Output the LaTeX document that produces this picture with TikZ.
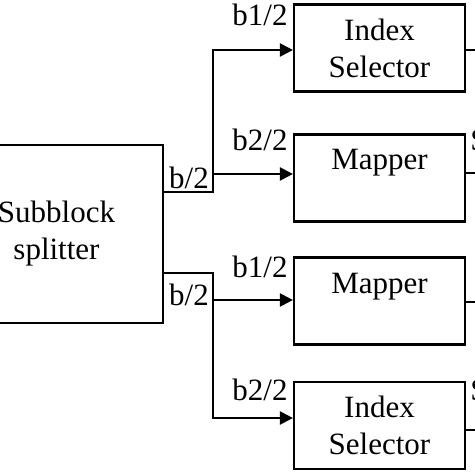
\documentclass[tikz,border=0pt]{standalone}
\usepackage{fontspec}
\setmainfont{Liberation Serif}
\usetikzlibrary{arrows.meta,calc}
\tikzset{
    blk/.style={draw,line width=1.1pt,minimum width=85.5pt,minimum height=43.5pt,inner sep=0pt,align=center},
    lbl/.style={inner sep=0pt},
    arr/.style={line width=1.1pt,-{Triangle[length=6.5pt,width=6.5pt]}},
    wire/.style={line width=1.1pt}
}
\begin{document}
\begin{tikzpicture}[x=0.5pt,y=-0.5pt,font=\fontsize{15.5}{18.5}\selectfont]
        \useasboundingbox (0,0) rectangle (474,474);

        % splitter
        \node[blk,minimum width=106.5pt,minimum height=89pt] (split) at (56.5,234) {Subblock\\splitter};

        % branch blocks
        \node[blk] (isel1) at (379.5,48) {Index\\Selector};
        \node[blk] (map1) at (379.5,178) {};
        \node (map1txt) at ([yshift=7.5pt]map1.center) {Mapper};
        \node[blk] (map2) at (379.5,301) {};
        \node (map2txt) at ([yshift=7pt]map2.center) {Mapper};
        \node[blk] (isel2) at (379.5,425.5) {Index\\Selector};

        % forks and inputs
        \coordinate (f1) at (213,192);
        \coordinate (f2) at (213,273);
        \coordinate (a1) at ([yshift=-1pt]isel1.west);
        \coordinate (a2) at ([yshift=2pt]map1.west);
        \coordinate (a3) at ([yshift=0.5pt]map2.west);
        \coordinate (a4) at ([yshift=3.75pt]isel2.west);

        \draw[arr] (split.east |- f1) -- (f1) |- (a1);
        \draw[arr] (f1 |- a2) -- (a2);
        \draw[arr] (split.east |- f2) -- (f2) |- (a4);
        \draw[arr] (f2 |- a3) -- (a3);

        % labels
        \node[lbl] (h1) at (189,178) {b/2};
        \node[lbl] (h2) at (189,295) {b/2};
        \node[lbl,anchor=east] (l1) at (288,15) {b1/2};
        \node[lbl,anchor=east] (l2) at (288,140) {b2/2};
        \node[lbl,anchor=east] (l3) at (288,267) {b1/2};
        \node[lbl,anchor=east] (l4) at (288,390) {b2/2};

        % outputs
        \coordinate (o1) at (500,50);
        \coordinate (o2) at (500,173);
        \coordinate (o3) at (500,302);
        \coordinate (o4) at (500,430);
        \draw[wire] (isel1.east |- o1) -- (o1);
        \draw[wire] (map1.east |- o2) -- (o2);
        \draw[wire] (map2.east |- o3) -- (o3);
        \draw[wire] (isel2.east |- o4) -- (o4);
        \node[lbl,anchor=west] (s1) at (470,140) {S};
        \node[lbl,anchor=west] (s2) at (470,390) {S};
    \end{tikzpicture}
\end{document}
